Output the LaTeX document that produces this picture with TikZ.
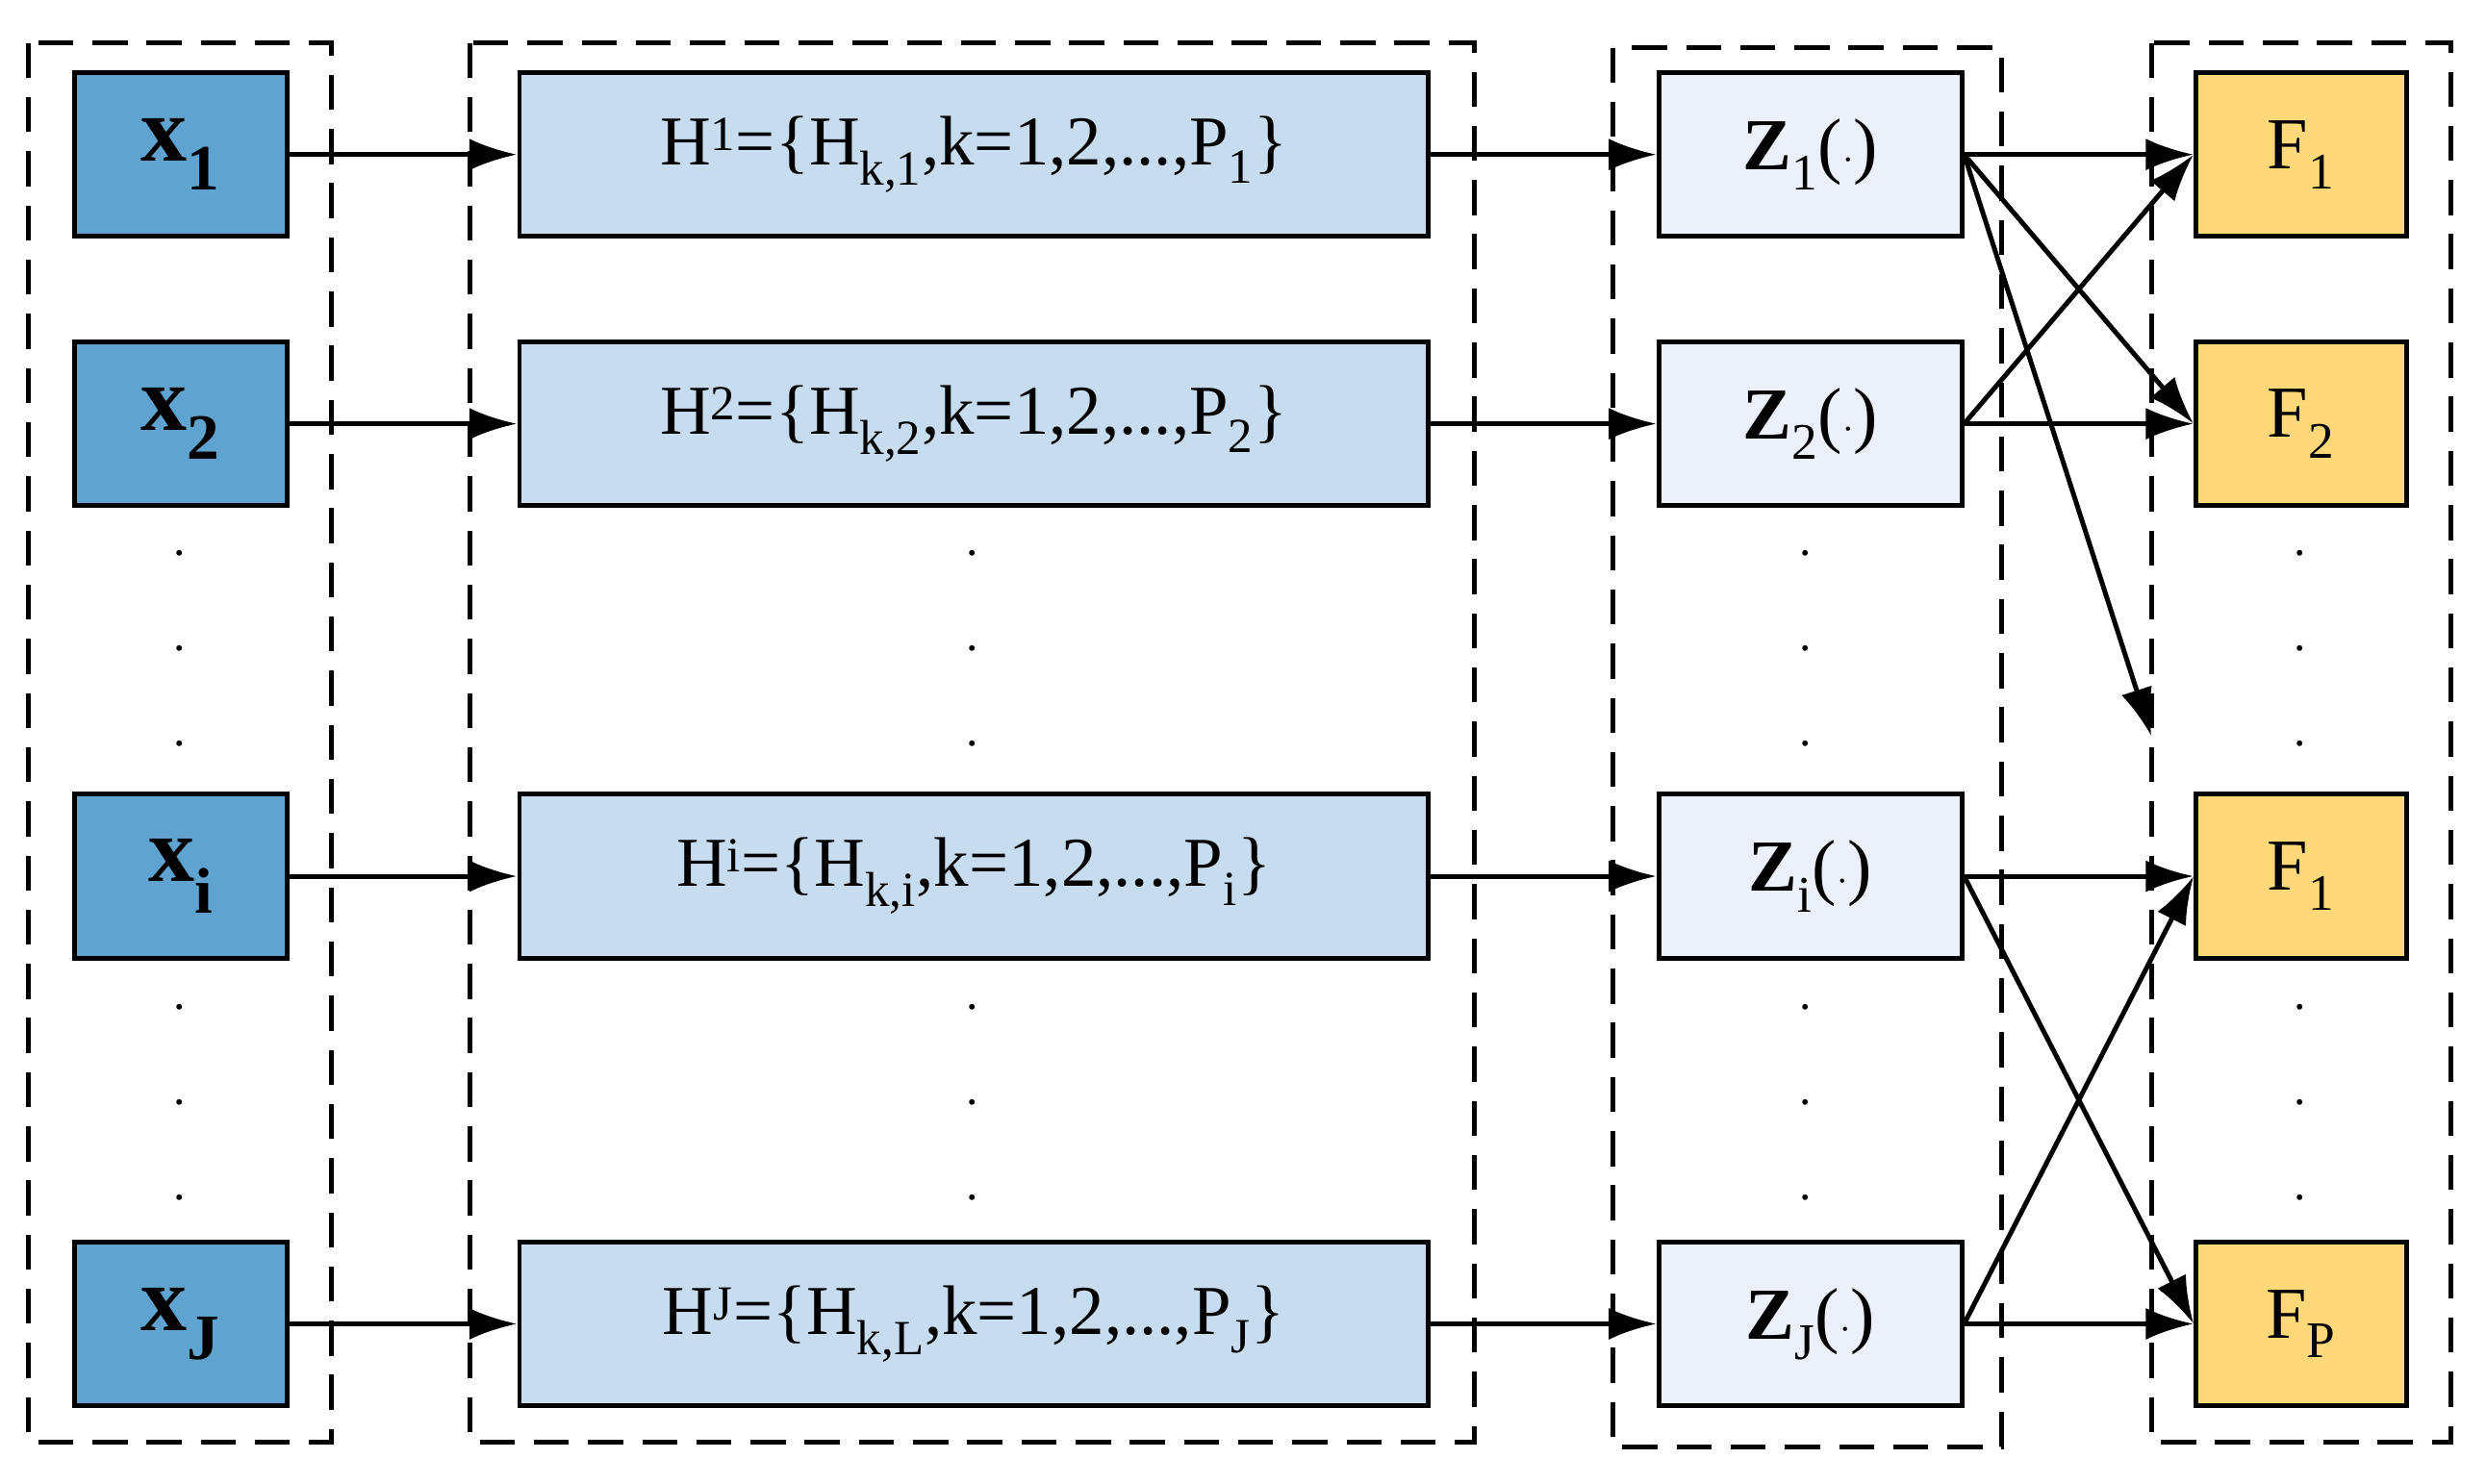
\documentclass[tikz,border=0pt]{standalone}
\usepackage{fontspec}
\setmainfont{Liberation Serif}
\usetikzlibrary{arrows.meta}
\definecolor{xb}{RGB}{95,163,209}
\definecolor{hb}{RGB}{200,220,240}
\definecolor{zb}{RGB}{236,240,250}
\definecolor{fb}{RGB}{255,216,122}
\begin{document}
\begin{tikzpicture}[x=1pt,y=-1pt,
  grp/.style={draw,line width=3pt,dash pattern=on 22pt off 12pt},
  bx/.style={draw,line width=3pt,anchor=center,inner sep=0pt,minimum height=103pt},
  xn/.style={bx,fill=xb,minimum width=133pt,font=\fontsize{58}{60}\selectfont\bfseries},
  hn/.style={bx,fill=hb,minimum width=570pt,font=\fontsize{44}{48}\selectfont},
  zn/.style={bx,fill=zb,minimum width=190pt,font=\fontsize{46}{48}\selectfont},
  fn/.style={bx,fill=fb,minimum width=132pt,font=\fontsize{46}{48}\selectfont},
  ar/.style={line width=3pt,-{Latex[length=30pt,width=20pt]}},
  dt/.style={font=\fontsize{30}{30}\selectfont}]
\useasboundingbox (0,0) rectangle (1560,931);
\draw[grp] (18,27) rectangle (208,905);
\draw[grp] (295,27) rectangle (925,905);
\draw[grp] (1012,30) rectangle (1256,908);
\draw[grp] (1350,27) rectangle (1538,905);
\foreach \n/\y in {1/97,2/266,i/550,J/831}{}
\node[xn] (x1) at (113.5,97) {x\textsubscript{1}};
\node[xn] (x2) at (113.5,266) {x\textsubscript{2}};
\node[xn] (xi) at (113.5,550) {x\textsubscript{i}};
\node[xn] (xJ) at (113.5,831) {x\textsubscript{J}};
\node[hn] (h1) at (611,97) {H\textsuperscript{1}=\{H\textsubscript{k,1},k=1,2,...,P\textsubscript{1}\}};
\node[hn] (h2) at (611,266) {H\textsuperscript{2}=\{H\textsubscript{k,2},k=1,2,...,P\textsubscript{2}\}};
\node[hn] (hi) at (611,550) {H\textsuperscript{i}=\{H\textsubscript{k,i},k=1,2,...,P\textsubscript{i}\}};
\node[hn] (hJ) at (611,831) {H\textsuperscript{J}=\{H\textsubscript{k,L},k=1,2,...,P\textsubscript{J}\}};
\node[zn] (z1) at (1136,97) {\textbf{Z}\textsubscript{1}($\cdot$)};
\node[zn] (z2) at (1136,266) {\textbf{Z}\textsubscript{2}($\cdot$)};
\node[zn] (zi) at (1136,550) {\textbf{Z}\textsubscript{i}($\cdot$)};
\node[zn] (zJ) at (1136,831) {\textbf{Z}\textsubscript{J}($\cdot$)};
\node[fn] (f1) at (1444,97) {F\textsubscript{1}};
\node[fn] (f2) at (1444,266) {F\textsubscript{2}};
\node[fn] (fi) at (1444,550) {F\textsubscript{1}};
\node[fn] (fP) at (1444,831) {F\textsubscript{P}};
\coordinate (dot) at (1350,462);
\foreach \xx in {113,610,1133,1443}{
  \foreach \yy in {347,407,467,632,692,752}{
    \node[dt] at (\xx,\yy) {.};}}
\foreach \a/\b in {x1/h1,x2/h2,xi/hi,xJ/hJ,h1/z1,h2/z2,hi/zi,hJ/zJ,z1/f1,z2/f2,zi/fi,zJ/fP}
  \draw[ar] (\a.east) -- (\b.west);
\draw[ar] (z1.east) -- (f2.west);
\draw[ar] (z2.east) -- (f1.west);
\draw[ar] (z1.east) -- (dot);
\draw[ar] (zi.east) -- (fP.west);
\draw[ar] (zJ.east) -- (fi.west);
\end{tikzpicture}
\end{document}
